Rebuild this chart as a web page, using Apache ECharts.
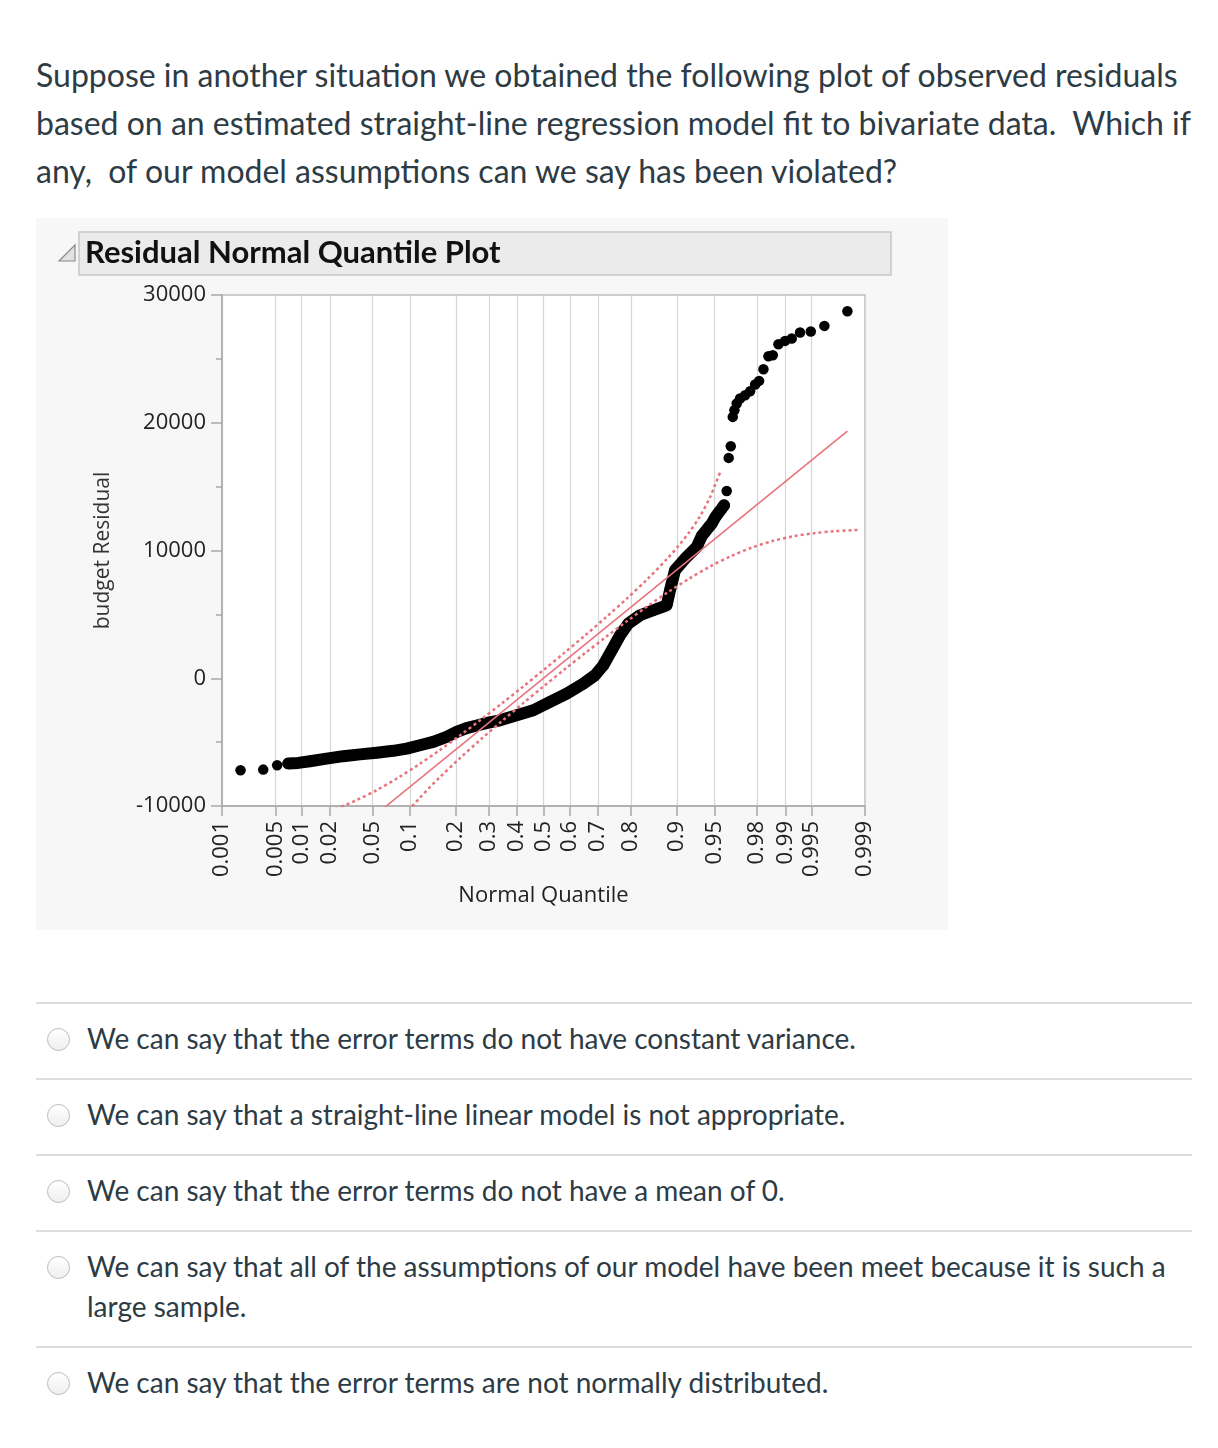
<!DOCTYPE html>
<html><head><meta charset="utf-8">
<script src="https://cdn.jsdelivr.net/npm/echarts@6/dist/echarts.min.js"></script>
<style>
html,body{margin:0;padding:0;background:#fff;}
body{width:1218px;height:1448px;position:relative;overflow:hidden;font-family:Lato,"Noto Sans",sans-serif;color:#2d3b45;}
.q{position:absolute;left:36px;top:51px;font-size:32px;line-height:48px;white-space:pre;}
#chart{position:absolute;left:36px;top:218px;width:912px;height:712px;}
.sep{position:absolute;left:36px;width:1156px;height:2px;background:#dedede;}
.radio{position:absolute;left:47px;width:21px;height:21px;border:1px solid #bcbcbc;border-radius:50%;background:linear-gradient(#ffffff,#efefef);}
.opt{position:absolute;left:87px;font-size:28px;line-height:40px;white-space:pre;}
</style></head>
<body>
<div class="q">Suppose in another situation we obtained the following plot of observed residuals
based on an estimated straight-line regression model fit to bivariate data.  Which if
any,  of our model assumptions can we say has been violated?</div>
<div id="chart"></div>

<div class="sep" style="top:1002px"></div>
<div class="radio" style="top:1028px"></div>
<div class="opt" style="top:1018px">We can say that the error terms do not have constant variance.</div>

<div class="sep" style="top:1078px"></div>
<div class="radio" style="top:1104px"></div>
<div class="opt" style="top:1094px">We can say that a straight-line linear model is not appropriate.</div>

<div class="sep" style="top:1154px"></div>
<div class="radio" style="top:1180px"></div>
<div class="opt" style="top:1170px">We can say that the error terms do not have a mean of 0.</div>

<div class="sep" style="top:1230px"></div>
<div class="radio" style="top:1256px"></div>
<div class="opt" style="top:1246px">We can say that all of the assumptions of our model have been meet because it is such a
large sample.</div>

<div class="sep" style="top:1346px"></div>
<div class="radio" style="top:1372px"></div>
<div class="opt" style="top:1362px">We can say that the error terms are not normally distributed.</div>

<script>
// ---- data ----
const probLabels = ['0.001','0.005','0.01','0.02','0.05','0.1','0.2','0.3','0.4','0.5','0.6','0.7','0.8','0.9','0.95','0.98','0.99','0.995','0.999'];

const leftTailZ = [-2.912, -2.694, -2.560];
const leftTailY = [-7202, -7150, -6810];

const bandZ = [-2.454, -2.358, -2.245, -2.085, -1.925, -1.764, -1.604, -1.444, -1.315, -1.188, -1.060, -0.931, -0.835, -0.739, -0.642, -0.530, -0.418, -0.258, -0.098, 0.063, 0.223, 0.383, 0.495, 0.575, 0.656, 0.736, 0.815, 0.928, 1.056, 1.150, 1.184, 1.216, 1.264, 1.361, 1.473, 1.521, 1.553, 1.585, 1.617, 1.649, 1.681, 1.713, 1.736];
const bandY = [-6680, -6627, -6497, -6289, -6100, -5960, -5830, -5680, -5506, -5245, -4984, -4593, -4200, -3900, -3700, -3480, -3288, -2896, -2505, -1852, -1200, -418, 235, 1018, 2192, 3366, 4279, 4932, 5323, 5600, 5714, 6889, 8454, 9370, 10280, 11142, 11455, 11794, 12107, 12577, 12942, 13282, 13542];

const rightTailZ = [1.761, 1.780, 1.800, 1.819, 1.835, 1.857, 1.889, 1.938, 1.986, 2.034, 2.072, 2.114, 2.162, 2.204, 2.258, 2.322, 2.386, 2.466, 2.569, 2.700, 2.921];
const rightTailY = [14664, 17248, 18161, 20457, 20979, 21502, 21893, 22153, 22466, 22988, 23275, 24189, 25206, 25284, 26146, 26407, 26590, 27059, 27137, 27581, 28729];

const fitZ = [-2.915, 2.921];
const fitY = [-19297, 19337];

const upperZ = [-2.0, -1.9, -1.8, -1.6, -1.4, -1.2, -1.0, -0.8, -0.6, -0.4, -0.2, 0, 0.2, 0.4, 0.6, 0.8, 1.0, 1.2, 1.3, 1.4, 1.5, 1.6, 1.65, 1.697];
const upperY = [-10221, -9910, -9553, -8745, -7798, -6759, -5640, -4455, -3231, -1966, -678, 640, 1986, 3356, 4766, 6229, 7772, 9453, 10387, 11420, 12624, 14147, 15160, 16090];

const lowerZ = [-1.3, -1.2, -1.1, -1.0, -0.8, -0.6, -0.4, -0.2, 0, 0.2, 0.4, 0.6, 0.8, 1.0, 1.2, 1.4, 1.6, 1.8, 2.0, 2.2, 2.4, 2.6, 2.8, 3.046];
const lowerY = [-10387, -9453, -8593, -7772, -6229, -4766, -3356, -1986, -640, 678, 1966, 3231, 4455, 5640, 6759, 7798, 8745, 9553, 10221, 10738, 11108, 11353, 11512, 11618];

// ---- normal quantile scale for the axis ----
function normInv(p){
 const a=[-3.969683028665376e+01,2.209460984245205e+02,-2.759285104469687e+02,1.383577518672690e+02,-3.066479806614716e+01,2.506628277459239e+00];
 const b=[-5.447609879822406e+01,1.615858368580409e+02,-1.556989798598866e+02,6.680131188771972e+01,-1.328068155288572e+01];
 const c=[-7.784894002430293e-03,-3.223964580411365e-01,-2.400758277161838e+00,-2.549732539343734e+00,4.374664141464968e+00,2.938163982698783e+00];
 const d=[7.784695709041462e-03,3.224671290700398e-01,2.445134137142996e+00,3.754408661907416e+00];
 const pl=0.02425, ph=1-pl; let q,r;
 if(p<pl){q=Math.sqrt(-2*Math.log(p));return (((((c[0]*q+c[1])*q+c[2])*q+c[3])*q+c[4])*q+c[5])/((((d[0]*q+d[1])*q+d[2])*q+d[3])*q+1);}
 if(p<=ph){q=p-0.5;r=q*q;return (((((a[0]*r+a[1])*r+a[2])*r+a[3])*r+a[4])*r+a[5])*q/(((((b[0]*r+b[1])*r+b[2])*r+b[3])*r+b[4])*r+1);}
 q=Math.sqrt(-2*Math.log(1-p));return -(((((c[0]*q+c[1])*q+c[2])*q+c[3])*q+c[4])*q+c[5])/((((d[0]*q+d[1])*q+d[2])*q+d[3])*q+1);
}
const zTicks = probLabels.map(s => normInv(parseFloat(s)));
const zip = (xs, ys) => xs.map((x, i) => [x, ys[i]]);

const axisCol = '#a9a9a9';
const txtCol = '#222';
const font = '"Open Sans", "Noto Sans", sans-serif';
const red = '#e8737c';

const chart = echarts.init(document.getElementById('chart'));
chart.setOption({
  backgroundColor: '#f7f7f7',
  animation: false,
  grid: {left: 186, top: 77, width: 643, height: 511, show: true, backgroundColor: '#ffffff', borderColor: '#bdbdbd', borderWidth: 1.5},
  xAxis: {
    type: 'value', min: zTicks[0], max: zTicks[zTicks.length - 1],
    axisLine: {show: true, onZero: false, lineStyle: {color: axisCol, width: 1.5}},
    axisTick: {show: true, length: 10, customValues: zTicks, lineStyle: {color: axisCol, width: 1.5}},
    axisLabel: {
      customValues: zTicks, rotate: 90, margin: 15, fontSize: 22, color: txtCol, fontFamily: font,
      formatter: v => { for (let i = 0; i < zTicks.length; i++) if (Math.abs(zTicks[i] - v) < 1e-7) return probLabels[i]; return ''; }
    },
    splitLine: {show: true, lineStyle: {color: '#d6d6d6', width: 1.2}},
    name: 'Normal Quantile', nameLocation: 'middle', nameGap: 78,
    nameTextStyle: {fontSize: 22, color: txtCol, fontFamily: font}
  },
  yAxis: {
    type: 'value', min: -10000, max: 30000, interval: 10000,
    axisLine: {show: true, onZero: false, lineStyle: {color: axisCol, width: 1.5}},
    axisTick: {show: true, length: 11, lineStyle: {color: axisCol, width: 1.5}},
    minorTick: {show: true, splitNumber: 2, length: 6, lineStyle: {color: axisCol, width: 1.5}},
    axisLabel: {margin: 16, fontSize: 22, color: txtCol, fontFamily: font, formatter: v => String(v)},
    splitLine: {show: false},
    name: 'budget Residual', nameLocation: 'middle', nameGap: 108,
    nameTextStyle: {fontSize: 21, color: '#333', fontFamily: font}
  },
  graphic: [
    {type: 'rect', shape: {x: 43, y: 14, width: 812, height: 43}, style: {fill: '#ebebeb', stroke: '#c8c8c8', lineWidth: 1.5}},
    {type: 'polygon', shape: {points: [[23, 43], [39, 43], [39, 27]]}, style: {fill: '#e2e2e2', stroke: '#8a8a8a', lineWidth: 1.2}},
    {type: 'text', x: 49, y: 35, style: {text: 'Residual Normal Quantile Plot', font: 'bold 31px Lato, "Noto Sans", sans-serif', fill: '#111', textVerticalAlign: 'middle'}}
  ],
  series: [
    {type: 'line', data: zip(bandZ, bandY), showSymbol: true, symbol: 'circle', symbolSize: 11,
     itemStyle: {color: '#000', opacity: 1, borderWidth: 0}, lineStyle: {color: '#000', width: 12, cap: 'round', join: 'round'}, z: 2, silent: true},
    {type: 'scatter', data: zip(leftTailZ, leftTailY), symbolSize: 10.5, itemStyle: {color: '#000', opacity: 1}, z: 2},
    {type: 'scatter', data: zip(rightTailZ, rightTailY), symbolSize: 10.5, itemStyle: {color: '#000', opacity: 1}, z: 2},
    {type: 'line', data: zip(fitZ, fitY), showSymbol: false, lineStyle: {color: red, width: 1.6}, z: 4, clip: true},
    {type: 'line', data: zip(upperZ, upperY), showSymbol: false, smooth: 0.3, lineStyle: {color: red, width: 2.5, type: [3, 3]}, z: 4, clip: true},
    {type: 'line', data: zip(lowerZ, lowerY), showSymbol: false, smooth: 0.3, lineStyle: {color: red, width: 2.5, type: [3, 3]}, z: 4, clip: true}
  ]
});
</script>
</body></html>
